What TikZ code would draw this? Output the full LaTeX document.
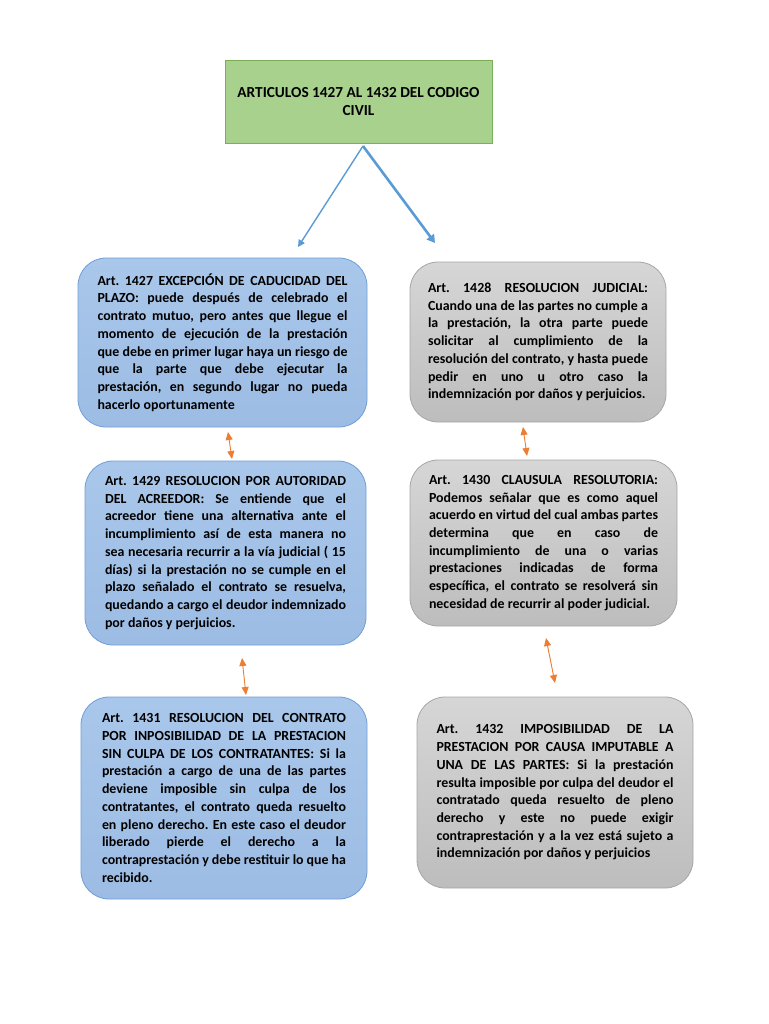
\documentclass[tikz,border=0pt]{standalone}
\usepackage{fontspec}
\setmainfont{Carlito}
\usepackage{tikz}
\usetikzlibrary{arrows.meta}
\definecolor{verde}{HTML}{A9D18E}
\definecolor{bordeverde}{HTML}{7DAF5B}
\definecolor{azularriba}{HTML}{A9C7EA}
\definecolor{azulabajo}{HTML}{9DBCE4}
\definecolor{bordeazul}{HTML}{6F9FD6}
\definecolor{grisarriba}{HTML}{D6D6D6}
\definecolor{grisabajo}{HTML}{BDBDBD}
\definecolor{bordegris}{HTML}{A6A6A6}
\definecolor{flechaazul}{HTML}{5B9BD5}
\definecolor{naranja}{HTML}{ED7D31}
\newcommand{\cuerpo}{\fontsize{13.9}{17.7}\selectfont\bfseries\frenchspacing}
\newcommand{\enlace}[2]{
  \draw [naranja, line width=0.9pt, {Triangle[width=7pt,length=8pt]}-{Triangle[width=7pt,length=8pt]}] (#1) -- (#2);% Double arrow
}

\begin{document}
\begin{tikzpicture}[x=1pt,y=-1pt,
    titulo/.style={draw=bordeverde,fill=verde,line width=0.8pt,minimum width=267pt,
      minimum height=83pt,align=center,font=\fontsize{15.3}{18}\selectfont\bfseries},
    caja/.style={line width=0.8pt,rounded corners=28pt,align=justify,font=\cuerpo},
    azul/.style={caja,draw=bordeazul,top color=azularriba,bottom color=azulabajo},
    gris/.style={caja,draw=bordegris,top color=grisarriba,bottom color=grisabajo}]
  \useasboundingbox (0,0) rectangle (768,1024);

  \node[titulo] (codigo) at (358.5,101.5) {ARTICULOS 1427 AL 1432 DEL CODIGO\\CIVIL};

  \node[azul,minimum width=289pt,minimum height=169pt,text width=250pt] (a1427) at (222.5,342.5)
    {Art. 1427 EXCEPCIÓN DE CADUCIDAD DEL\linebreak PLAZO: puede después de celebrado el\linebreak
     contrato mutuo, pero antes que llegue el\linebreak momento de ejecución de la prestación\linebreak
     que debe en primer lugar haya un riesgo de\linebreak que la parte que debe ejecutar la\linebreak
     prestación, en segundo lugar no pueda\linebreak hacerlo oportunamente};

  \node[gris,minimum width=256pt,minimum height=160pt,text width=220pt] (a1428) at (538,342)
    {Art. 1428 RESOLUCION JUDICIAL:\linebreak Cuando una de las partes no cumple a\linebreak
     la prestación, la otra parte puede\linebreak solicitar al cumplimiento de la\linebreak
     resolución del contrato, y hasta puede\linebreak pedir en uno u otro caso la\linebreak
     indemnización por daños y perjuicios.};

  \node[azul,minimum width=281pt,minimum height=184pt,text width=241pt] (a1429) at (225.5,553)
    {Art. 1429 RESOLUCION POR AUTORIDAD\linebreak DEL ACREEDOR: Se entiende que el\linebreak
     acreedor tiene una alternativa ante el\linebreak incumplimiento así de esta manera no\linebreak
     sea necesaria recurrir a la vía judicial ( 15\linebreak días) si la prestación no se cumple en el\linebreak
     plazo señalado el contrato se resuelva,\linebreak quedando a cargo el deudor indemnizado\linebreak
     por daños y perjuicios.};

  \node[gris,minimum width=267pt,minimum height=166pt,text width=229pt] (a1430) at (543.5,543)
    {Art. 1430 CLAUSULA RESOLUTORIA:\linebreak Podemos señalar que es como aquel\linebreak
     acuerdo en virtud del cual ambas partes\linebreak determina que en caso de\linebreak
     incumplimiento de una o varias\linebreak prestaciones indicadas de forma\linebreak
     específica, el contrato se resolverá sin\linebreak necesidad de recurrir al poder judicial.};

  \node[azul,minimum width=286pt,minimum height=202pt,text width=244pt] (a1431) at (224,798)
    {Art. 1431 RESOLUCION DEL CONTRATO\linebreak POR INPOSIBILIDAD DE LA PRESTACION\linebreak
     SIN CULPA DE LOS CONTRATANTES: Si la\linebreak prestación a cargo de una de las partes\linebreak
     deviene imposible sin culpa de los\linebreak contratantes, el contrato queda resuelto\linebreak
     en pleno derecho. En este caso el deudor\linebreak liberado pierde el derecho a la\linebreak
     contraprestación y debe restituir lo que ha\linebreak recibido.};

  \node[gris,minimum width=276pt,minimum height=191pt,text width=237pt] (a1432) at (555,792.5)
    {Art. 1432 IMPOSIBILIDAD DE LA\linebreak PRESTACION POR CAUSA IMPUTABLE A\linebreak
     UNA DE LAS PARTES: Si la prestación\linebreak resulta imposible por culpa del deudor el\linebreak
     contratado queda resuelto de pleno\linebreak derecho y este no puede exigir\linebreak
     contraprestación y a la vez está sujeto a\linebreak indemnización por daños y perjuicios};

  % free ends of the connectors
  \coordinate (raiz) at (363,146);
  \coordinate (izq) at (298,247);
  \coordinate (der) at (435,243);
  \coordinate (e1a) at (228,432);  \coordinate (e1b) at (232,459);
  \coordinate (e2a) at (523,427);  \coordinate (e2b) at (527,456);
  \coordinate (e3a) at (242,658);  \coordinate (e3b) at (246,695);
  \coordinate (e4a) at (546,638);  \coordinate (e4b) at (555,683);

  \draw [flechaazul, line width=1.4pt, -{Triangle[width=7pt,length=7pt]}] (raiz) -- (izq);
  \draw [flechaazul, line width=2.6pt, -{Triangle[width=9pt,length=8pt]}] (raiz) -- (der);

  \enlace{e1a}{e1b}
  \enlace{e2a}{e2b}
  \enlace{e3a}{e3b}
  \enlace{e4a}{e4b}
\end{tikzpicture}
\end{document}
